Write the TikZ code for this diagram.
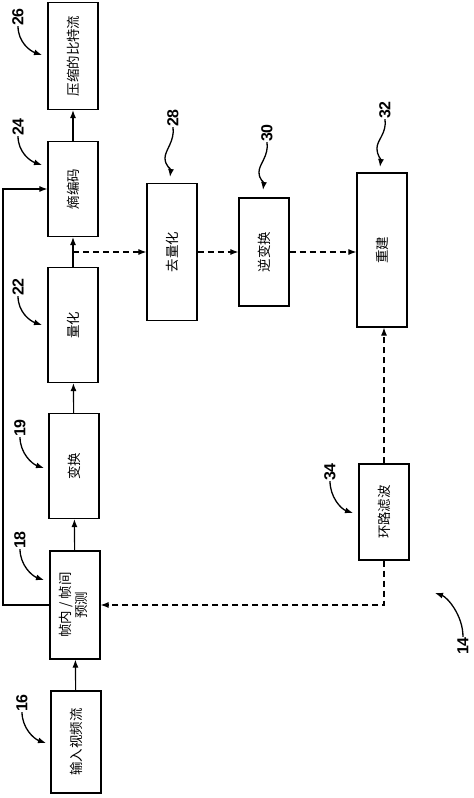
\documentclass[tikz,border=0pt]{standalone}
\usepackage{fontspec}
\usepackage{graphicx}
\setsansfont{Liberation Sans}
\newfontfamily\cjk{Noto Sans CJK SC}
\usetikzlibrary{arrows.meta,calc}
\newcommand{\rt}[1]{\rotatebox{90}{#1}}

\begin{document}
\begin{tikzpicture}[x=1bp,y=-1bp,
	blk/.style={draw,line width=1.2bp,minimum width=50bp,inner sep=0pt,font=\cjk\fontsize{13.5}{16}\selectfont},
	flow/.style={line width=1.1bp,-{Latex[length=8bp,width=6bp]}},
	dflow/.style={flow,dash pattern=on 6bp off 4bp},
	refnum/.style={font=\sffamily\bfseries\fontsize{16}{16}\selectfont,rotate=90,inner sep=0pt},
	refarr/.style={line width=1.3bp,-{Latex[length=8bp,width=6bp]}}]

	\useasboundingbox (0,0) rectangle (474,798);

	% encoder column
	\node[blk,minimum height=102bp] (b16) at (76,742) {\rt{输入视频流}};
	\node[blk,minimum height=108bp] (b18) at (75,605) {\rt{\begin{tabular}{@{}c@{}}帧内 / 帧间\\预测\end{tabular}}};
	\node[blk,minimum height=105bp] (b19) at (74,466) {\rt{变换}};
	\node[blk,minimum height=115bp] (b22) at (73,325) {\rt{量化}};
	\node[blk,minimum height=95bp]  (b24) at (73,189) {\rt{熵编码}};
	\node[blk,minimum height=107bp] (b26) at (73,56)  {\rt{压缩的比特流}};

	% reconstruction path
	\node[blk,minimum height=137bp] (b28) at (172,252) {\rt{去量化}};
	\node[blk,minimum height=108bp] (b30) at (264,252) {\rt{逆变换}};
	\node[blk,minimum height=154bp] (b32) at (382,250) {\rt{重建}};
	\node[blk,minimum height=96bp]  (b34) at (384,512) {\rt{环路滤波}};

	\draw[flow] (b16) -- (b18);
	\draw[flow] (b18) -- (b19);
	\draw[flow] (b19) -- (b22);
	\draw[flow] (b22) -- (b24);
	\draw[flow] (b24) -- (b26);

	\coordinate (fb) at (3,0);
	\draw[flow] (b18.west) -- (b18.west -| fb) |- (b24.west);

	\coordinate (tap) at ($(b22.north)!0.5!(b24.south)$);
	\draw[dflow] (tap) -- (tap -| b28.west);
	\draw[dflow] (b28.east |- b30.west) -- (b30.west);
	\draw[dflow] (b30.east) -- (b30.east -| b32.west);
	\draw[dflow] (b34.north) -- (b34.north |- b32.south);
	\coordinate (lp) at (b34.south |- b18.east);
	\draw[dflow] (b34.south) -- (lp) -- (b18.east);

	% reference numerals
	\node[refnum] (n26) at (18,17)  {26};
	\node[refnum] (n24) at (18,127) {24};
	\node[refnum] (n22) at (18,287) {22};
	\node[refnum] (n19) at (20,428) {19};
	\node[refnum] (n18) at (20,540) {18};
	\node[refnum] (n16) at (22,703) {16};
	\node[refnum] (n34) at (330,472) {34};
	\node[refnum] (n28) at (173,118) {28};
	\node[refnum] (n30) at (267,133) {30};
	\node[refnum] (n32) at (385,110) {32};
	\node[refnum] (n14) at (463,646) {14};

	\draw[refarr] (n26.west) .. controls +(0,16) and +(-12,-4) .. (42,55);
	\draw[refarr] (n24.west) .. controls +(0,16) and +(-12,-4) .. (42,165);
	\draw[refarr] (n22.west) .. controls +(0,16) and +(-12,-4) .. (42,325);
	\draw[refarr] (n19.west) .. controls +(0,16) and +(-12,-4) .. (44,468);
	\draw[refarr] (n18.west) .. controls +(0,16) and +(-12,-4) .. (44,580);
	\draw[refarr] (n16.west) .. controls +(0,16) and +(-12,-4) .. (46,743);
	\draw[refarr] (n34.west) .. controls +(0,16) and +(-12,-4) .. (353,513);
	\draw[refarr] (n28.west) .. controls +(2,14) and +(0,-8) .. (165,158) .. controls +(0,8) and +(1,-8) .. (170,177);
	\draw[refarr] (n30.west) .. controls +(2,14) and +(0,-8) .. (259,172) .. controls +(0,8) and +(1,-8) .. (263,190);
	\draw[refarr] (n32.west) .. controls +(2,14) and +(0,-8) .. (377,148) .. controls +(0,8) and +(1,-8) .. (380,167);
	\draw[refarr] (n14.east) .. controls +(0,-22) and +(12,4) .. (435,593);

\end{tikzpicture}
\end{document}
